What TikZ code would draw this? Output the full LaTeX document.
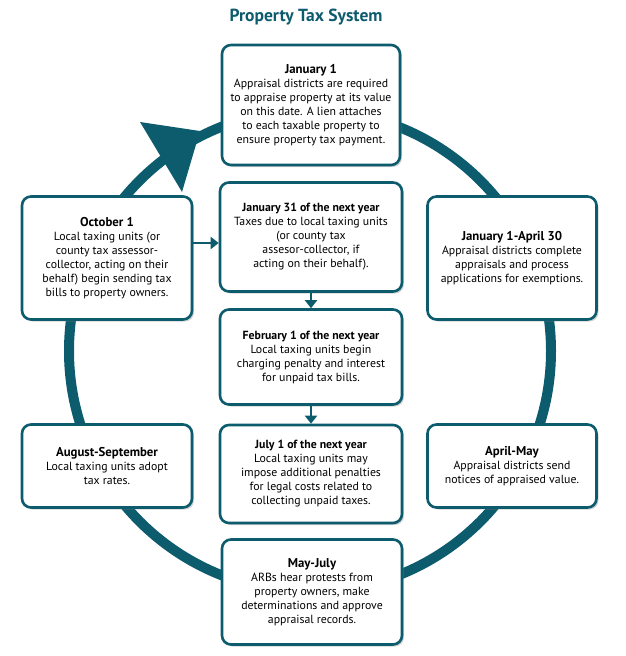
\documentclass[tikz,border=0pt]{standalone}
\usepackage{fontspec}
\setmainfont{PT Sans}
\usetikzlibrary{shadows,arrows.meta}
\definecolor{teal}{HTML}{0D5C6E}
\begin{document}
\begin{tikzpicture}[x=1pt,y=-1pt,
 box/.style={draw=teal,line width=2.6pt,fill=white,rounded corners=9pt,align=center,font=\fontsize{11.8}{14}\selectfont,inner sep=2pt,drop shadow={opacity=0.35,shadow xshift=2pt,shadow yshift=-2pt}},
 conn/.style={draw=teal,line width=2.6pt,-{Triangle[length=8pt,width=12pt]}}]
\useasboundingbox (0,0) rectangle (625,656);
\node[font=\bfseries\fontsize{17.5}{20}\selectfont,text=teal] (title) at (306,17) {Property Tax System};
\draw[teal,line width=10pt] (310,351) circle (241);
\fill[teal] (140,122) -- (200,131) -- (182,192) -- cycle;
\node[box,minimum width=178pt,minimum height=120pt] (j1) at (311,105) {\textbf{\fontsize{12.8}{15}\selectfont January 1}\\Appraisal districts are required\\to appraise property at its value\\on this date. A lien attaches\\to each taxable property to\\ensure property tax payment.};
\node[box,minimum width=182pt,minimum height=109pt] (j31) at (311,237) {\textbf{January 31 of the next year}\\Taxes due to local taxing units\\(or county tax\\assesor-collector, if\\acting on their behalf).};
\node[box,minimum width=182pt,minimum height=95pt] (f1) at (311,357) {\textbf{February 1 of the next year}\\Local taxing units begin\\charging penalty and interest\\for unpaid tax bills.};
\node[box,minimum width=182pt,minimum height=98pt] (jl1) at (311,474) {\textbf{July 1 of the next year}\\Local taxing units may\\impose additional penalties\\for legal costs related to\\collecting unpaid taxes.};
\node[box,minimum width=180pt,minimum height=105pt] (mj) at (312,592) {\textbf{\fontsize{12.8}{15}\selectfont May-July}\\ARBs hear protests from\\property owners, make\\determinations and approve\\appraisal records.};
\node[box,minimum width=170pt,minimum height=123pt] (o1) at (107,258) {\textbf{\fontsize{12.8}{15}\selectfont October 1}\\Local taxing units (or\\county tax assessor-\\collector, acting on their\\behalf) begin sending tax\\bills to property owners.};
\node[box,minimum width=170pt,minimum height=83pt] (as) at (107,466) {\textbf{\fontsize{12.8}{15}\selectfont August-September}\\Local taxing units adopt\\tax rates.};
\node[box,minimum width=169pt,minimum height=123pt] (ja) at (512,258) {\textbf{\fontsize{12.8}{15}\selectfont January 1-April 30}\\Appraisal districts complete\\appraisals and process\\applications for exemptions.};
\node[box,minimum width=169pt,minimum height=83pt] (am) at (512,466) {\textbf{\fontsize{12.8}{15}\selectfont April-May}\\Appraisal districts send\\notices of appraised value.};
\draw[conn] (o1.east|-0,243) -- (j31.west|-0,243);
\draw[conn] (j31) -- (f1);
\draw[conn] (f1) -- (jl1);
\end{tikzpicture}
\end{document}
